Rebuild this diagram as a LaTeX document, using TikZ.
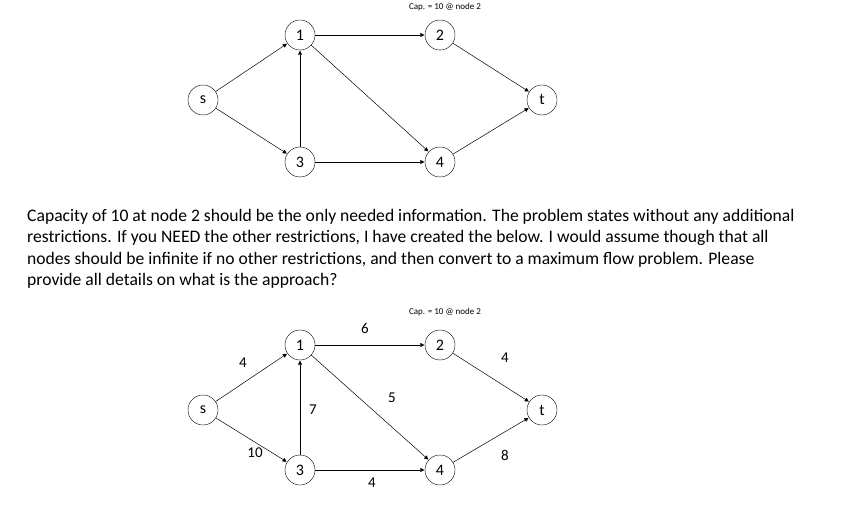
\documentclass[tikz,border=0pt]{standalone}
\usepackage{fontspec}
\setmainfont{Carlito}
\usetikzlibrary{arrows.meta,positioning}
\tikzset{
  vert/.style={draw, circle, minimum size=30pt, inner sep=0pt, font=\fontsize{16}{18}\selectfont},
  edge/.style={-{Triangle[length=4pt,width=4pt]}, line width=0.5pt, shorten >=0.5pt},
  caplabel/.style={font=\fontsize{9}{10}\selectfont},
  wt/.style={font=\fontsize{15}{17}\selectfont},
}
\begin{document}
\begin{tikzpicture}[x=1pt, y=-1pt]
    \useasboundingbox (0,0) rectangle (846,505);

    % first network
    \node[vert] (s) at (203,100) {s};
    \node[vert] (n1) at (300,35) {1};
    \node[vert] (n2) at (440,35) {2};
    \node[vert] (n3) at (300,162) {3};
    \node[vert] (n4) at (440,162) {4};
    \node[vert] (t) at (542,100) {t};
    \node[caplabel] (c1) at (445,7) {Cap. = 10 @ node 2};
    \foreach \a/\b in {s/n1, s/n3, n3/n1, n1/n2, n1/n4, n3/n4, n2/t, n4/t} {
        \draw[edge] (\a) -- (\b);
    }

    % question text
    \node[anchor=north west, align=left, inner sep=0pt,
          font=\fontsize{17.6}{21.5}\selectfont] (txt) at (27,209) {%
        Capacity of 10 at node 2 should be the only needed information. The problem states without any additional\\
        restrictions. If you NEED the other restrictions, I have created the below. I would assume though that all\\
        nodes should be infinite if no other restrictions, and then convert to a maximum flow problem. Please\\
        provide all details on what is the approach?};

    % second network with capacities
    \node[vert] (S) at (203,410) {s};
    \node[vert] (N1) at (300,345) {1};
    \node[vert] (N2) at (440,345) {2};
    \node[vert] (N3) at (300,470) {3};
    \node[vert] (N4) at (440,470) {4};
    \node[vert] (T) at (542,410) {t};
    \node[caplabel] (c2) at (445,312) {Cap. = 10 @ node 2};
    \foreach \a/\b in {S/N1, S/N3, N3/N1, N1/N2, N1/N4, N3/N4, N2/T, N4/T} {
        \draw[edge] (\a) -- (\b);
    }
    \node[wt] (w12) at (365,328) {6};
    \node[wt] (ws1) at (243,363) {4};
    \node[wt] (w31) at (313,410) {7};
    \node[wt] (w14) at (392,398) {5};
    \node[wt] (w2t) at (505,358) {4};
    \node[wt] (ws3) at (255,453) {10};
    \node[wt] (w4t) at (505,455) {8};
    \node[wt] (w34) at (372,483) {4};
\end{tikzpicture}
\end{document}
